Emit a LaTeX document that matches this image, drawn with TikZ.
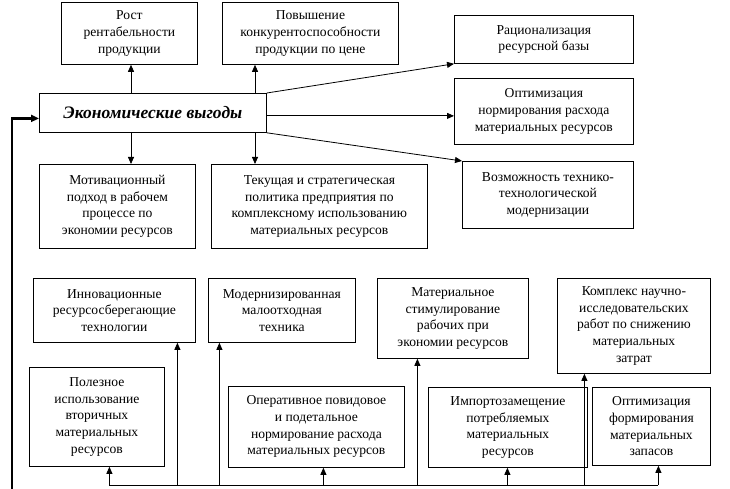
\documentclass[tikz,border=0pt]{standalone}
\usepackage{fontspec}
\setmainfont{Liberation Serif}
\usetikzlibrary{arrows.meta}

\tikzset{
  blok/.style={draw, line width=0.8pt, align=center, inner sep=0pt, anchor=north west,
    font=\fontsize{13.6}{16.7}\selectfont},
  arr/.style={line width=0.8pt, -{Triangle[length=7pt,width=6pt]}},
  fat/.style={line width=2.6pt, -{Triangle[length=8pt,width=7pt]}}
}

\begin{document}
\begin{tikzpicture}[x=1pt,y=-1pt]
  \useasboundingbox (0,0) rectangle (730,489);
  % top part
  \node[blok, minimum width=227pt, minimum height=39pt,
    font=\fontsize{17.5}{20}\selectfont\bfseries\itshape] (ekon) at (39,93) {Экономические выгоды};
  \node[blok, minimum width=136pt, minimum height=62pt] (rost) at (61,2) {Рост\\рентабельности\\продукции};
  \node[blok, minimum width=176pt, minimum height=62pt] (povysh) at (222,2) {Повышение\\конкурентоспособности\\продукции по цене};
  \node[blok, minimum width=179pt, minimum height=48pt] (ratsion) at (454,15) {Рационализация\\ресурсной базы};
  \node[blok, minimum width=179pt, minimum height=66pt] (optnorm) at (454,78) {Оптимизация\\нормирования расхода\\материальных ресурсов};
  \node[blok, minimum width=171pt, minimum height=67pt] (vozm) at (462,161) {Возможность технико-\\технологической\\модернизации};
  \node[blok, minimum width=156pt, minimum height=84pt] (motiv) at (39,164) {Мотивационный\\подход в рабочем\\процессе по\\экономии ресурсов};
  \node[blok, minimum width=216pt, minimum height=84pt] (tekush) at (211,164) {Текущая и стратегическая\\политика предприятия по\\комплексному использованию\\материальных ресурсов};

  \coordinate (a1) at (131,0);
  \coordinate (a2) at (255,0);
  \draw[arr] (a1 |- ekon.north) -- (a1 |- rost.south);
  \draw[arr] (a2 |- ekon.north) -- (a2 |- povysh.south);
  \draw[arr] (a1 |- ekon.south) -- (a1 |- motiv.north);
  \draw[arr] (a2 |- ekon.south) -- (a2 |- tekush.north);
  \draw[arr] (ekon.north east) -- (ratsion.south west);
  \draw[arr] ([yshift=-3pt]ekon.east) -- ([yshift=-3pt]ekon.east -| optnorm.west);
  \draw[arr] (ekon.south east) -- (vozm.north west);

  % bottom part
  \node[blok, minimum width=162pt, minimum height=64pt] (innov) at (33,278) {Инновационные\\ресурсосберегающие\\технологии};
  \node[blok, minimum width=147pt, minimum height=64pt] (modern) at (208,278) {Модернизированная\\малоотходная\\техника};
  \node[blok, minimum width=151pt, minimum height=80pt] (mater) at (377,278) {Материальное\\стимулирование\\рабочих при\\экономии ресурсов};
  \node[blok, minimum width=153pt, minimum height=95pt] (kompl) at (557,278) {Комплекс научно-\\исследовательских\\работ по снижению\\материальных\\затрат};
  \node[blok, minimum width=135pt, minimum height=99pt] (polez) at (29,367) {Полезное\\использование\\вторичных\\материальных\\ресурсов};
  \node[blok, minimum width=176pt, minimum height=81pt] (operat) at (228,386) {Оперативное повидовое\\и подетальное\\нормирование расхода\\материальных ресурсов};
  \node[blok, minimum width=159pt, minimum height=80pt] (import) at (428,387) {Импортозамещение\\потребляемых\\материальных\\ресурсов};
  \node[blok, minimum width=118pt, minimum height=78pt] (optform) at (592,387) {Оптимизация\\формирования\\материальных\\запасов};

  \coordinate (bl) at (109,485);
  \coordinate (br) at (658,485);
  \draw[line width=0.8pt] (bl) -- (br);
  \foreach \b/\dx in {polez/12.5, innov/63, modern/-62.5, operat/7,
                      mater/-35.5, import/-0.5, kompl/-49.5, optform/7}
    { \draw[arr] ([xshift=\dx pt]\b.south |- bl) -- ([xshift=\dx pt]\b.south); }

  % feedback
  \coordinate (fb) at (12,489);
  \draw[fat] (fb) |- ([yshift=-5.5pt]ekon.west);
\end{tikzpicture}
\end{document}
